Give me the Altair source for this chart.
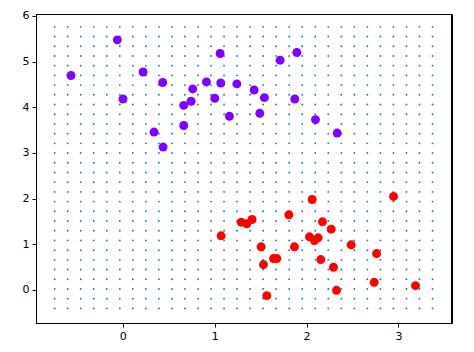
import numpy as np
import pandas as pd
import altair as alt

# Class 0 (purple) points
x0 = [-0.564, -0.060, 0.002, 0.220, 0.434, 0.340, 0.438, 0.663, 0.663, 0.743,
      0.761, 0.910, 1.001, 1.059, 1.066, 1.160, 1.241, 1.894, 1.712, 1.429,
      1.541, 1.872, 1.491, 2.097, 2.333]
y0 = [4.693, 5.474, 4.180, 4.770, 4.540, 3.456, 3.127, 4.040, 3.600, 4.130,
      4.400, 4.553, 4.195, 5.175, 4.530, 3.800, 4.510, 5.197, 5.029, 4.377,
      4.210, 4.180, 3.866, 3.728, 3.434]
# Class 1 (red) points
x1 = [2.061, 1.807, 1.288, 1.349, 1.407, 2.173, 2.268, 1.070, 2.032, 2.086,
      2.126, 2.486, 1.505, 1.868, 1.640, 1.676, 1.531, 2.155, 2.293, 2.326,
      1.567, 2.947, 2.762, 2.736, 3.186]
y1 = [1.980, 1.644, 1.483, 1.447, 1.541, 1.491, 1.329, 1.184, 1.162, 1.081,
      1.140, 0.987, 0.943, 0.943, 0.686, 0.686, 0.555, 0.664, 0.496, -0.009,
      -0.125, 2.046, 0.796, 0.167, 0.094]

# Mesh grid coordinates (30 x 30)
grid_x = np.linspace(-0.742, 3.371, 30)
grid_y = np.linspace(-0.404, 5.759, 30)

x_ticks = [0, 1, 2, 3]
y_ticks = [0, 1, 2, 3, 4, 5, 6]
x_domain = [-0.945, 3.583]
y_domain = [-0.724, 6.04]

W, H = 416, 309

gx, gy = np.meshgrid(grid_x, grid_y)
grid_df = pd.DataFrame({"x": gx.ravel(), "y": gy.ravel()})
pts_df = pd.DataFrame({
    "x": x0 + x1,
    "y": y0 + y1,
    "cls": [0] * len(x0) + [1] * len(x1),
})

xs = alt.Scale(domain=x_domain, nice=False, zero=False)
ys = alt.Scale(domain=y_domain, nice=False, zero=False)
axis_common = dict(grid=False, domainColor="#000", domainWidth=1, tickColor="#000",
                   tickSize=4, tickWidth=1, labelFont="DejaVu Sans", labelFontSize=11,
                   labelColor="#000", labelPadding=3, title=None, format="d")

xenc = alt.X("x:Q", scale=xs, axis=alt.Axis(values=x_ticks, labelFlush=False, **axis_common))
yenc = alt.Y("y:Q", scale=ys, axis=alt.Axis(values=y_ticks, **axis_common))

grid_layer = alt.Chart(grid_df).mark_circle(size=3.5, opacity=1, color="#1f77b4").encode(
    x=xenc, y=yenc)

pts_layer = alt.Chart(pts_df).mark_circle(size=80, opacity=1).encode(
    x=alt.X("x:Q", scale=xs),
    y=alt.Y("y:Q", scale=ys),
    color=alt.Color("cls:N", scale=alt.Scale(domain=[0, 1], range=["#8000ff", "#ff0000"]),
                    legend=None),
)

# frame (top and right spines)
top_spine = alt.Chart(pd.DataFrame({"a": [0]})).mark_rule(color="#000", strokeWidth=1).encode(
    x=alt.value(0), x2=alt.value(W), y=alt.value(0.5))
right_spine = alt.Chart(pd.DataFrame({"a": [0]})).mark_rule(color="#000", strokeWidth=1).encode(
    x=alt.value(W - 0.5), y=alt.value(0), y2=alt.value(H))

chart = alt.layer(grid_layer, pts_layer, top_spine, right_spine).properties(
    width=W, height=H,
    background="white",
    autosize=alt.AutoSizeParams(type="none"),
    padding={"left": 36, "top": 14, "right": 22, "bottom": 29},
).configure_view(stroke="#000", strokeWidth=1)

chart.save("out.html", embed_options={"renderer": "svg", "actions": False})
